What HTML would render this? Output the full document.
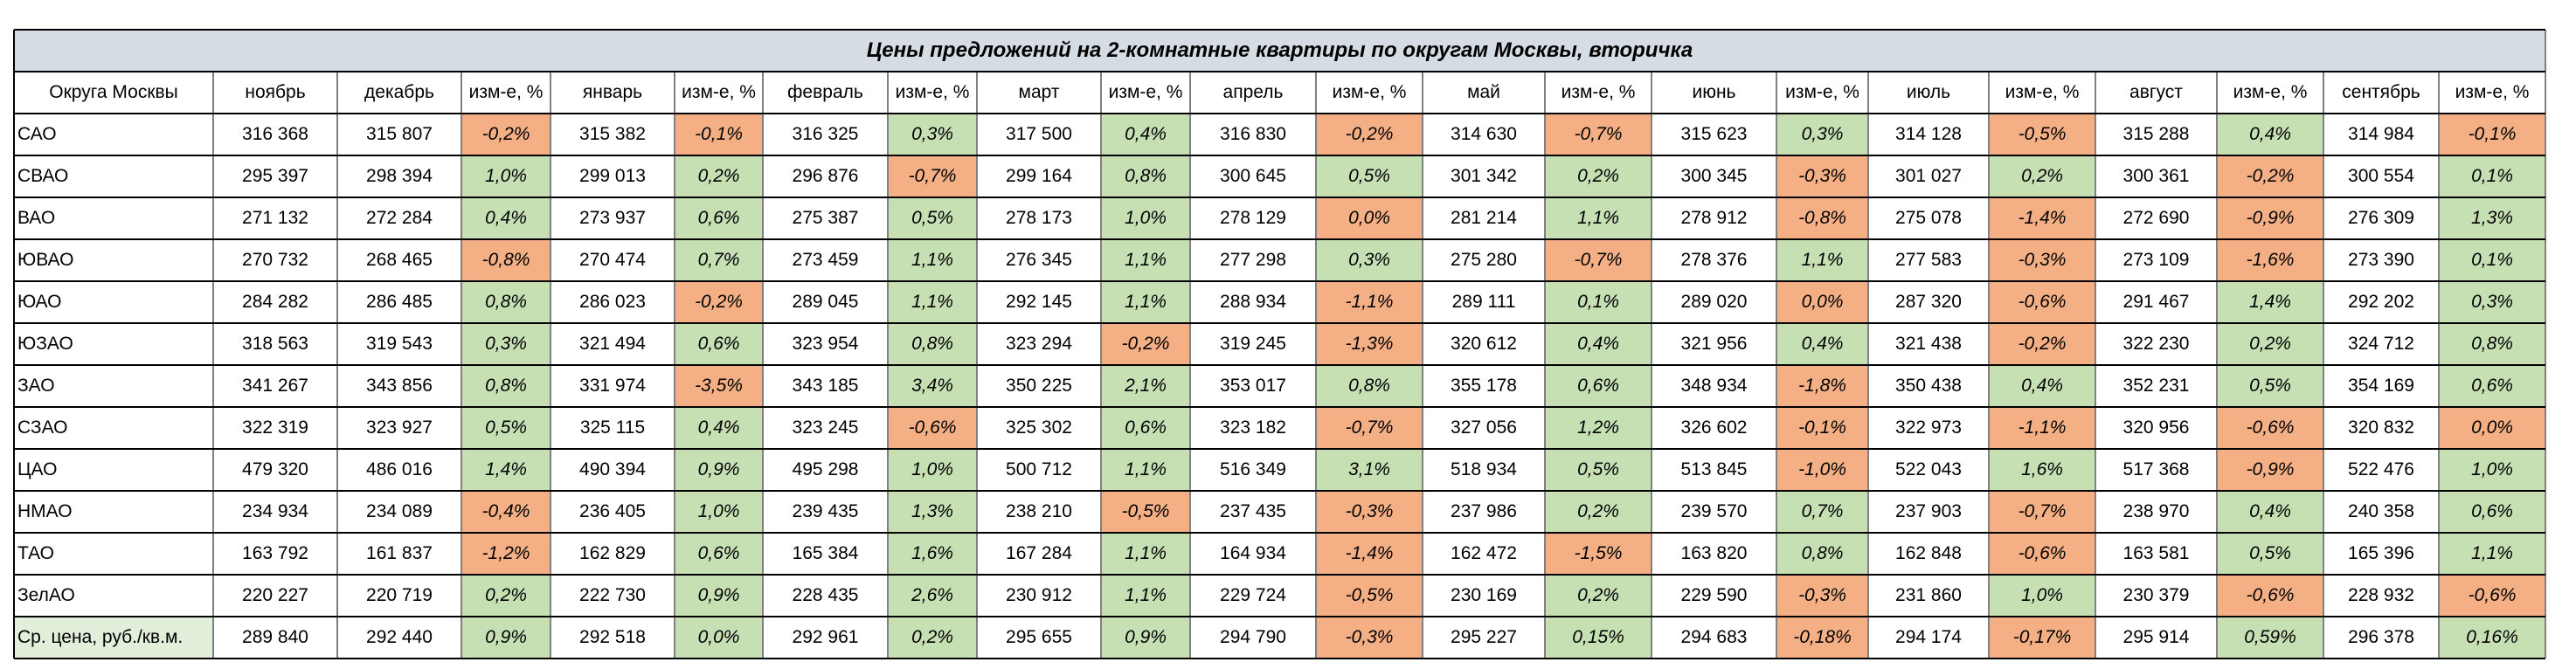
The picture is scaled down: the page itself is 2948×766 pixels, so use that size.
<!DOCTYPE html>
<html><head><meta charset="utf-8">
<style>
body{margin:0;background:#fff;width:2948px;height:766px;position:relative;overflow:hidden;font-family:"Liberation Sans",sans-serif;}
.c{position:absolute;box-sizing:border-box;display:flex;align-items:center;justify-content:center;font-size:21px;color:#000;white-space:nowrap;}
.title{background:#D6DCE4;font-weight:bold;font-style:italic;font-size:24px;}
.p{font-style:italic;}
.o{background:#F4B084;}
.g{background:#C6E0B4;}
.lg{background:#E2EFDA;}
.name{justify-content:flex-start;padding-left:4px;}
.vl{position:absolute;width:2px;background:#808080;}
.hl{position:absolute;height:2px;background:#000;}
</style></head><body>
<div id="tbl"></div>
<script>
const districts=["САО","СВАО","ВАО","ЮВАО","ЮАО","ЮЗАО","ЗАО","СЗАО","ЦАО","НМАО","ТАО","ЗелАО","Ср. цена, руб./кв.м."];
const months=["ноябрь","декабрь","январь","февраль","март","апрель","май","июнь","июль","август","сентябрь"];
const prices=[
["316 368","315 807","315 382","316 325","317 500","316 830","314 630","315 623","314 128","315 288","314 984"],
["295 397","298 394","299 013","296 876","299 164","300 645","301 342","300 345","301 027","300 361","300 554"],
["271 132","272 284","273 937","275 387","278 173","278 129","281 214","278 912","275 078","272 690","276 309"],
["270 732","268 465","270 474","273 459","276 345","277 298","275 280","278 376","277 583","273 109","273 390"],
["284 282","286 485","286 023","289 045","292 145","288 934","289 111","289 020","287 320","291 467","292 202"],
["318 563","319 543","321 494","323 954","323 294","319 245","320 612","321 956","321 438","322 230","324 712"],
["341 267","343 856","331 974","343 185","350 225","353 017","355 178","348 934","350 438","352 231","354 169"],
["322 319","323 927","325 115","323 245","325 302","323 182","327 056","326 602","322 973","320 956","320 832"],
["479 320","486 016","490 394","495 298","500 712","516 349","518 934","513 845","522 043","517 368","522 476"],
["234 934","234 089","236 405","239 435","238 210","237 435","237 986","239 570","237 903","238 970","240 358"],
["163 792","161 837","162 829","165 384","167 284","164 934","162 472","163 820","162 848","163 581","165 396"],
["220 227","220 719","222 730","228 435","230 912","229 724","230 169","229 590","231 860","230 379","228 932"],
["289 840","292 440","292 518","292 961","295 655","294 790","295 227","294 683","294 174","295 914","296 378"]];
const changes=[
["-0,2","-0,1","0,3","0,4","-0,2","-0,7","0,3","-0,5","0,4","-0,1"],
["1,0","0,2","-0,7","0,8","0,5","0,2","-0,3","0,2","-0,2","0,1"],
["0,4","0,6","0,5","1,0","-0,0","1,1","-0,8","-1,4","-0,9","1,3"],
["-0,8","0,7","1,1","1,1","0,3","-0,7","1,1","-0,3","-1,6","0,1"],
["0,8","-0,2","1,1","1,1","-1,1","0,1","-0,0","-0,6","1,4","0,3"],
["0,3","0,6","0,8","-0,2","-1,3","0,4","0,4","-0,2","0,2","0,8"],
["0,8","-3,5","3,4","2,1","0,8","0,6","-1,8","0,4","0,5","0,6"],
["0,5","0,4","-0,6","0,6","-0,7","1,2","-0,1","-1,1","-0,6","-0,0"],
["1,4","0,9","1,0","1,1","3,1","0,5","-1,0","1,6","-0,9","1,0"],
["-0,4","1,0","1,3","-0,5","-0,3","0,2","0,7","-0,7","0,4","0,6"],
["-1,2","0,6","1,6","1,1","-1,4","-1,5","0,8","-0,6","0,5","1,1"],
["0,2","0,9","2,6","1,1","-0,5","0,2","-0,3","1,0","-0,6","-0,6"],
["0,9","0,0","0,2","0,9","-0,3","0,15","-0,18","-0,17","0,59","0,16"]];
const xs=[16,244,386,528,630,772,873,1016,1118,1260,1362,1506,1628,1768,1890,2033,2138,2276,2398,2537,2659,2791,2913];
const top0=34,rowH=48;
const T=document.getElementById('tbl');
function cell(x1,x2,y,h,txt,cls){
  const d=document.createElement('div');
  d.className='c '+cls;
  d.style.left=x1+'px';d.style.width=(x2-x1)+'px';d.style.top=y+'px';d.style.height=h+'px';
  d.textContent=txt;T.appendChild(d);return d;
}
let t=cell(xs[0],xs[22],top0,rowH,"Цены предложений на 2-комнатные квартиры по округам Москвы, вторичка","title");


const hy=top0+rowH;
let h=cell(xs[0],xs[1],hy,rowH,"Округа Москвы","");


for(let m=0;m<months.length;m++){
  const ci=m===0?1:2*m;
  let e=cell(xs[ci],xs[ci+1],hy,rowH,months[m],"");
  
  
  if(m>0){
    let e2=cell(xs[ci+1],xs[ci+2],hy,rowH,"изм-е, %","");
    
    
  }
}
for(let r=0;r<districts.length;r++){
  const y=hy+rowH*(r+1);
  const last=r===districts.length-1;
  let n=cell(xs[0],xs[1],y,rowH,districts[r],"name"+(last?" lg":""));
  
  
  for(let m=0;m<months.length;m++){
    const ci=m===0?1:2*m;
    let p=cell(xs[ci],xs[ci+1],y,rowH,prices[r][m],"");
    
    
    if(m>0){
      const v=changes[r][m-1];
      const neg=v.startsWith('-');
      const txt=(v==="-0,0"?"0,0":v)+"%";
      let c=cell(xs[ci+1],xs[ci+2],y,rowH,txt,"p "+(neg?"o":"g"));
      
      
    }
  }
}
const bottom=hy+rowH*(districts.length+1);
for(let i=0;i<xs.length;i++){
  const d=document.createElement('div');d.className='vl';
  d.style.left=(xs[i]-1)+'px';
  const y1=(i===0||i===xs.length-1)?top0:hy;
  d.style.top=y1+'px';d.style.height=(bottom-y1)+'px';
  if(i===0)d.style.background='#000';
  
  
  T.appendChild(d);
}
for(let r=0;r<=districts.length+2;r++){
  const d=document.createElement('div');d.className='hl';
  d.style.left=xs[0]+'px';d.style.width=(xs[22]-xs[0])+'px';
  d.style.top=(top0+rowH*r-1)+'px';
  
  
  T.appendChild(d);
}
</script>
</body></html>
